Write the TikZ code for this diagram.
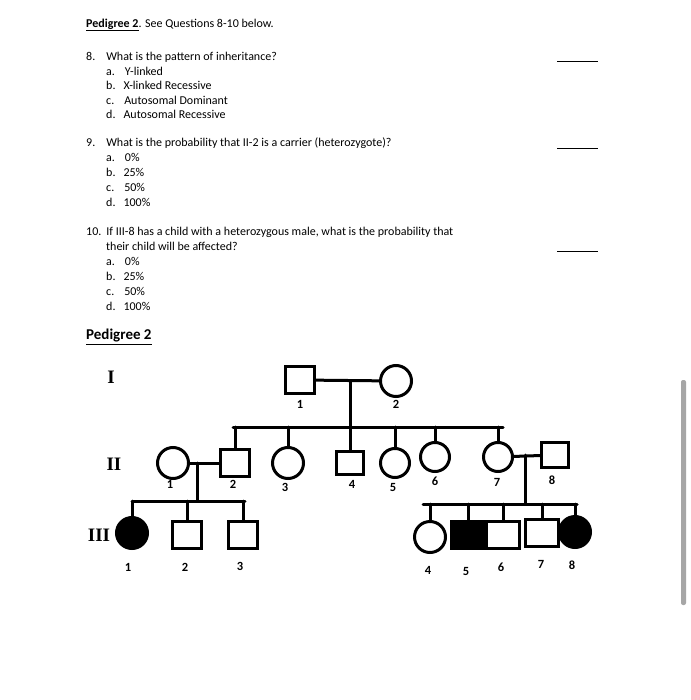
\documentclass[tikz,border=0pt]{standalone}
\usepackage{fontspec}
\setmainfont{Carlito}
\newfontfamily\genfont{Liberation Serif}
\begin{document}
\begin{tikzpicture}[x=1pt,y=-1pt,
 txt/.style={anchor=west,inner sep=0pt,font=\fontsize{12}{13}\selectfont},
 ln/.style={line width=3pt,line cap=round},
 male/.style={draw,line width=3pt,minimum width=29pt,minimum height=27pt,inner sep=0pt},
 fem/.style={draw,circle,line width=3pt,minimum size=31pt,inner sep=0pt},
 aff/.style={fill=black},
 num/.style={font=\bfseries\fontsize{12.5}{13}\selectfont,inner sep=0pt},
 gen/.style={font=\genfont\fontsize{19}{20}\selectfont\bfseries,inner sep=0pt}]
\useasboundingbox (0,0) rectangle (690,700);
\fill[white] (0,0) rectangle (690,700);
% text
\node[txt] (t0) at (86,25) {\underline{\textbf{Pedigree 2}}. See Questions 8-10 below.};
\node[txt] (q8) at (86,57) {8.\hspace{11pt}What is the pattern of inheritance?};
\node[txt] (q8a) at (106,71) {a.\hspace{10pt}Y-linked};
\node[txt] (q8b) at (106,85) {b.\hspace{8pt}X-linked Recessive};
\node[txt] (q8c) at (106,100) {c.\hspace{10pt}Autosomal Dominant};
\node[txt] (q8d) at (106,114) {d.\hspace{8pt}Autosomal Recessive};
\node[txt] (q9) at (86,143) {9.\hspace{11pt}What is the probability that II-2 is a carrier (heterozygote)?};
\node[txt] (q9a) at (106,157) {a.\hspace{10pt}0\%};
\node[txt] (q9b) at (106,172) {b.\hspace{8pt}25\%};
\node[txt] (q9c) at (106,187) {c.\hspace{10pt}50\%};
\node[txt] (q9d) at (106,202) {d.\hspace{8pt}100\%};
\node[txt] (q10) at (86,232) {10.\hspace{5pt}If III-8 has a child with a heterozygous male, what is the probability that};
\node[txt] (q10l) at (106,246) {their child will be affected?};
\node[txt] (q10a) at (106,261) {a.\hspace{10pt}0\%};
\node[txt] (q10b) at (106,276) {b.\hspace{8pt}25\%};
\node[txt] (q10c) at (106,291) {c.\hspace{10pt}50\%};
\node[txt] (q10d) at (106,306) {d.\hspace{8pt}100\%};
\node[txt,font=\bfseries\fontsize{15}{16}\selectfont] (ped) at (86,337) {\underline{Pedigree 2}};
\draw[line width=0.8pt] (557,61) -- (598,61);
\draw[line width=0.8pt] (557,148) -- (598,148);
\draw[line width=0.8pt] (557,251) -- (598,251);
% scrollbar
\fill[gray!70,rounded corners=2pt] (681,380) rectangle (686,605);
% generation labels
\node[gen] (gI) at (111,377) {I};
\node[gen] (gII) at (114,464) {II};
\node[gen] (gIII) at (99,535) {III};
% gen I
\node[male] (i1) at (300,380) {};
\node[fem] (i2) at (396,381) {};
\coordinate (m1) at (350,381);
\draw[ln] (i1) -- (i2);
\coordinate (s1) at (350,427);
\coordinate (s2) at (0,501);
\coordinate (s3) at (0,504);
\draw[ln] (m1) -- (s1);
\draw[ln] (233,427) -- (503,427);
% gen II
\node[fem] (ii1) at (173,463) {};
\node[male] (ii2) at (235,463) {};
\node[fem] (ii3) at (288,463) {};
\node[male,minimum width=27pt,minimum height=23pt] (ii4) at (350,463) {};
\node[fem,minimum size=29pt] (ii5) at (395,463) {};
\node[fem,minimum size=29pt] (ii6) at (435,457) {};
\node[fem,minimum size=29pt] (ii7) at (498,457) {};
\node[male,minimum width=27pt,minimum height=25pt] (ii8) at (555,455) {};
\foreach \n in {ii2,ii3,ii4,ii5,ii6,ii7} \draw[ln] (\n.north) -- (\n.north |- s1);
\draw[ln] (ii1) -- (ii2);
\draw[ln] (ii7) -- (ii8);
% gen III
\node[fem,aff] (iii1) at (132,533) {};
\node[male] (iii2) at (187,535) {};
\node[male] (iii3) at (243,535) {};
\node[fem] (iii4) at (430,537) {};
\node[male,aff,minimum width=33pt] (iii5) at (468,535) {};
\node[male,minimum width=33pt] (iii6) at (503,535) {};
\node[male,minimum width=33pt] (iii7) at (542,533) {};
\node[fem,aff] (iii8) at (575,532) {};
\draw[ln] (197,463) -- (197,501);
\draw[ln] (132,501) -- (245,501);
\draw[ln] (525,455) -- (525,504);
\draw[ln] (423,504) -- (577,504);
\foreach \n in {iii1,iii2,iii3} \draw[ln] (\n.north) -- (\n.north |- s2);
\foreach \n in {iii4,iii5,iii6,iii7,iii8} \draw[ln] (\n.north) -- (\n.north |- s3);
% numbers
\node[num] (n1) at (300,404) {1};
\node[num] (n2) at (396,404) {2};
\foreach \x/\y/\t in {170/484/1,233/484/2,285/487/3,352/484/4,393/487/5,435/481/6,497/482/7,552/480/8,
 128/567/1,185/567/2,240/566/3,428/570/4,466/571/5,501/567/6,541/564/7,572/565/8}
 \node[num] at (\x,\y) {\t};
\end{tikzpicture}
\end{document}
